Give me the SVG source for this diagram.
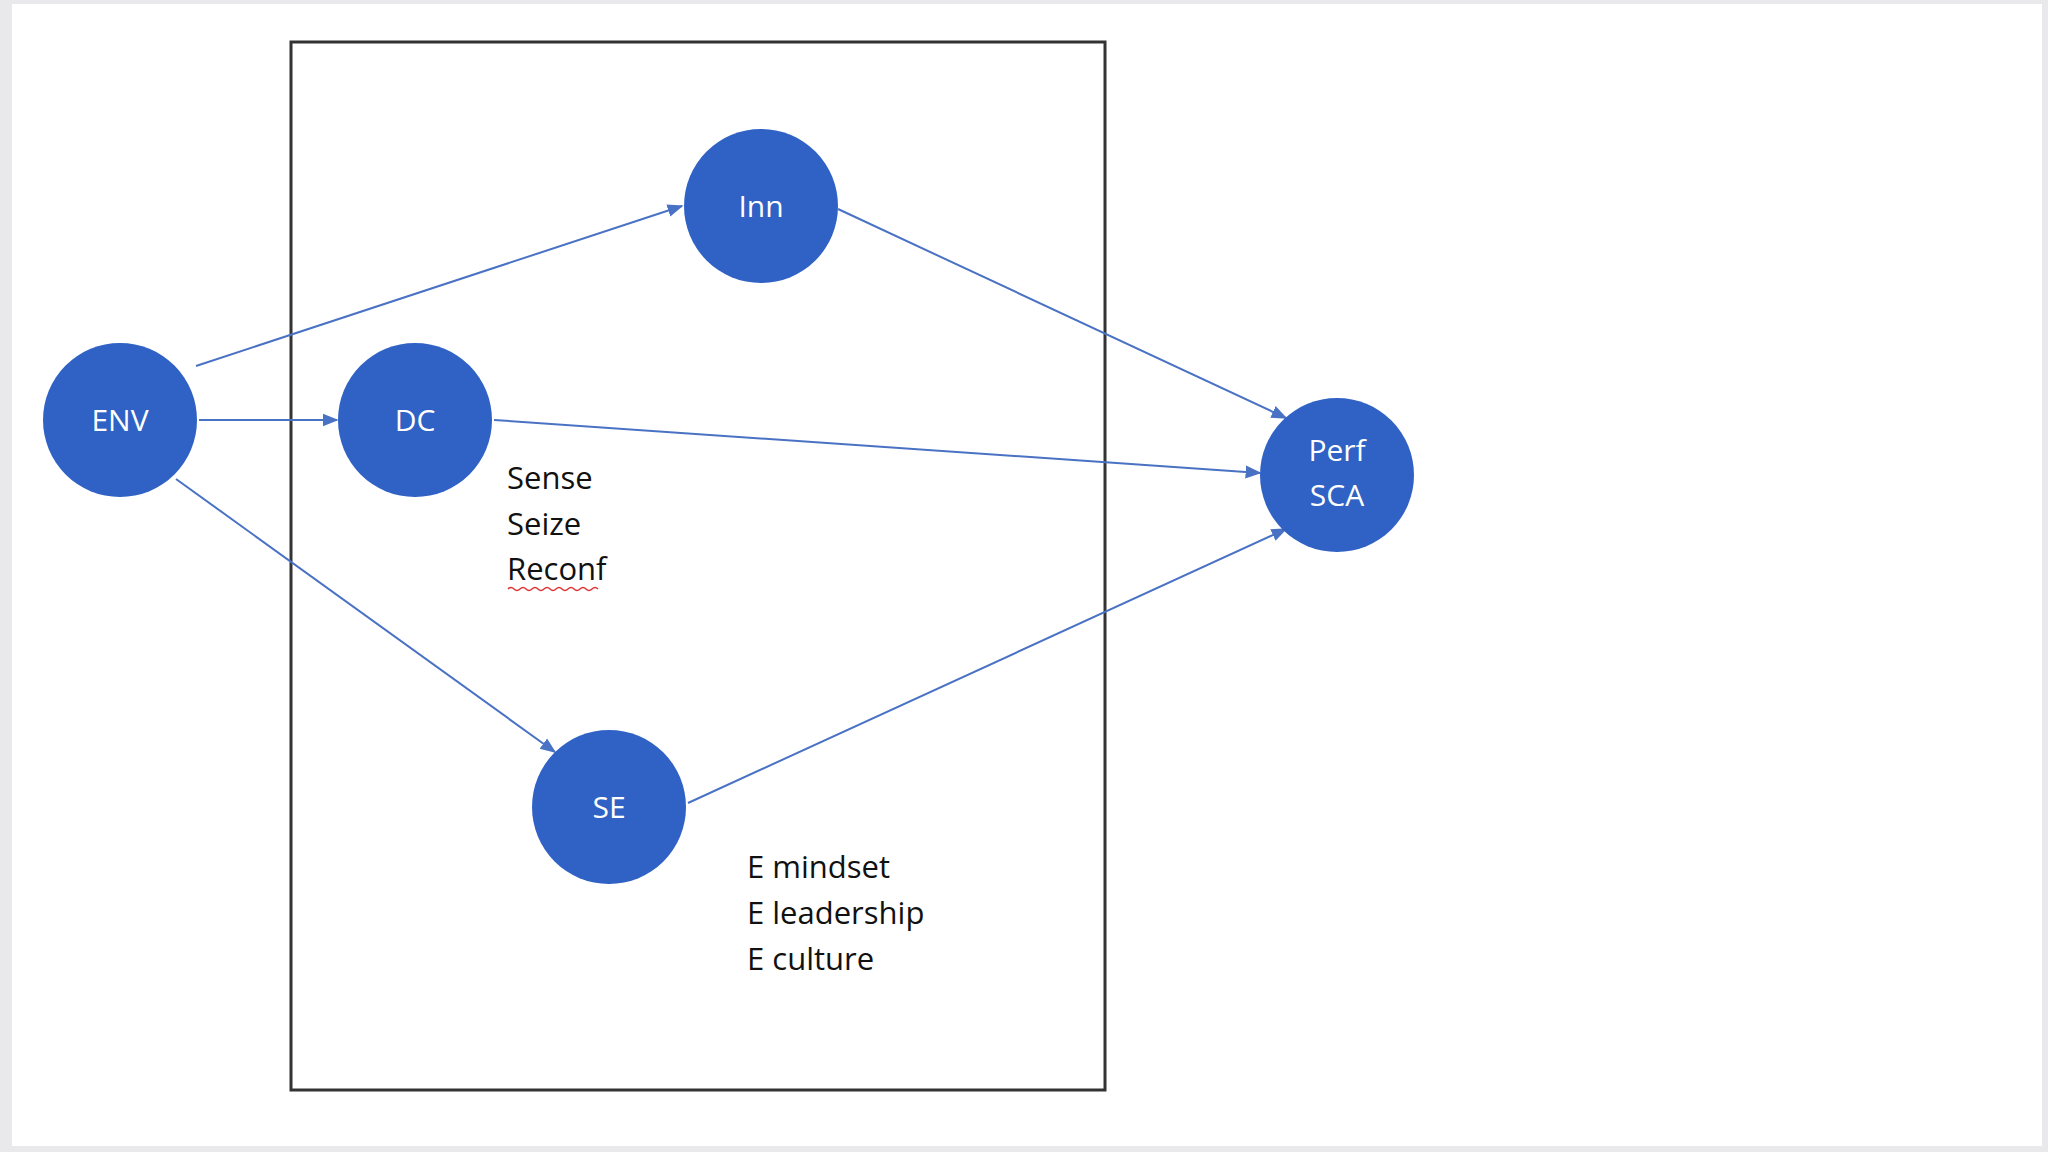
<svg xmlns="http://www.w3.org/2000/svg" width="2048" height="1152" viewBox="0 0 2048 1152">
<style>
.n{fill:#2f62c4}
.nt{font-family:"Open Sans","Liberation Sans",sans-serif;font-size:30px;fill:#fff;text-anchor:middle}
.t{font-family:"Open Sans","Liberation Sans",sans-serif;font-size:31px;fill:#111}
.e{stroke:#4a72c4;stroke-width:2;fill:none;marker-end:url(#a)}
</style>
<defs><marker id="a" viewBox="0 0 10 10" refX="9" refY="5" markerWidth="8" markerHeight="8" orient="auto"><path d="M0,1 L10,5 L0,9 z" fill="#4a72c4"/></marker></defs>
<rect width="2048" height="1152" fill="#e9e9ec"/>
<rect x="12" y="4" width="2030" height="1142" fill="#fff"/>
<rect id="frame" x="291" y="42" width="814" height="1048" fill="none" stroke="#333" stroke-width="3"/>
<g id="connectors">
<line class="e" x1="196" y1="366" x2="682" y2="206"/>
<line class="e" x1="199" y1="420" x2="337" y2="420"/>
<line class="e" x1="176" y1="479" x2="555" y2="752"/>
<line class="e" x1="838" y1="209" x2="1286" y2="418"/>
<line class="e" x1="494" y1="420" x2="1260" y2="473"/>
<line class="e" x1="688" y1="803" x2="1286" y2="529"/>
</g>
<g id="ENV"><circle class="n" cx="120" cy="420" r="77"/><text class="nt" x="120" y="431">ENV</text></g>
<g id="DC"><circle class="n" cx="415" cy="420" r="77"/><text class="nt" x="415" y="431">DC</text></g>
<g id="Inn"><circle class="n" cx="761" cy="206" r="77"/><text class="nt" x="761" y="217">Inn</text></g>
<g id="SE"><circle class="n" cx="609" cy="807" r="77"/><text class="nt" x="609" y="818">SE</text></g>
<g id="Perf"><circle class="n" cx="1337" cy="475" r="77"/><text class="nt" x="1337" y="461">Perf</text><text class="nt" x="1337" y="506">SCA</text></g>
<g id="dc-notes"><text class="t" x="507" y="489">Sense</text><text class="t" x="507" y="535">Seize</text><text class="t" x="507" y="580">Reconf</text>
<path d="M508,589 q3,-3 6,0 t6,0 t6,0 t6,0 t6,0 t6,0 t6,0 t6,0 t6,0 t6,0 t6,0 t6,0 t6,0 t6,0 t6,0" fill="none" stroke="#d33" stroke-width="1.5"/></g>
<g id="se-notes"><text class="t" x="747" y="878">E mindset</text><text class="t" x="747" y="924">E leadership</text><text class="t" x="747" y="970">E culture</text></g>
</svg>
